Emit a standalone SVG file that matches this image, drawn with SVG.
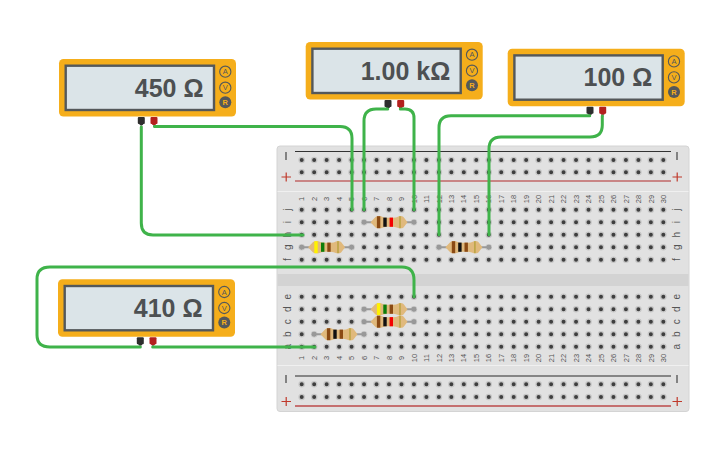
<svg xmlns="http://www.w3.org/2000/svg" xmlns:xlink="http://www.w3.org/1999/xlink" width="725" height="453" viewBox="0 0 725 453">
<style>
text{font-family:"Liberation Sans",Arial,sans-serif}
.case{fill:#f5ae1b}
.screen{fill:#dbe4e8;stroke:#54585a;stroke-width:2.4}
.val{font-size:25px;font-weight:bold;fill:#4d5052;text-anchor:end}
.btn{fill:none;stroke:#54585a;stroke-width:1.1}
.on{fill:#54585a;stroke:none}
.bl{font-size:7.5px;fill:#54585a;text-anchor:middle}
.blon{font-size:7.5px;font-weight:bold;fill:#f5ae1b;text-anchor:middle}
.tb{fill:#2e2e2e}.tr{fill:#b3201e}
.pin{stroke:#8c8c8c;stroke-width:2;fill:none}
.wire{fill:none;stroke:#3fb34a;stroke-width:3;stroke-linecap:round}
.halo{fill:none;stroke:#3fb34a;stroke-opacity:.18;stroke-width:5}
.h1{fill:none;stroke:#c6c6c6;stroke-width:6.6;stroke-linecap:round;stroke-dasharray:0 12.47}
.h2{fill:none;stroke:#3f3f3f;stroke-width:4;stroke-linecap:round;stroke-dasharray:0 12.47}
.n{font-size:7.5px;fill:#555;text-anchor:middle}
.l{font-size:10px;fill:#555;text-anchor:middle}
.minus{font-size:12px;fill:#444;text-anchor:middle}
.plus{font-size:15px;fill:#c0392b;text-anchor:middle}
.lead{stroke:#999;stroke-width:2;fill:none}
.end{fill:#999}
.rb{fill:#e0b97c}
.b1{fill:#8a4a14}.b0{fill:#111}.br{fill:#f40000}.by{fill:#fff200}.bg{fill:#0b7d0b}.bo{fill:#b7a23c}
</style>
<defs>
<g id="mbody">
<rect class="case" x="0" y="0" width="177" height="57.5" rx="4.5"/>
<rect class="screen" x="6.7" y="6.7" width="148.3" height="44.3"/>
<circle class="btn" cx="166.3" cy="12.7" r="5.6"/>
<circle class="btn" cx="166.3" cy="28.7" r="5.6"/>
<circle class="on" cx="166.3" cy="43.3" r="6"/>
<path class="pin" d="M82.3 64V68M95 64V68"/>
<rect class="tb" x="78.8" y="58" width="7" height="7" rx="1"/>
<path class="tb" d="M79.800000 64h5l-1 2h-3z"/>
<rect class="tr" x="91.5" y="58" width="7" height="7" rx="1"/>
<path class="tr" d="M92.500000 64h5l-1 2h-3z"/>
</g>
<g id="rbody">
<path class="lead" d="M-25 0H25"/>
<circle class="end" cx="-25" cy="0" r="2.4"/><circle class="end" cx="25" cy="0" r="2.4"/>
<path class="rb" d="M-18.500000 0L-13.500000 -5.200000Q-11 -6.500000 -8 -6Q-5 -4.500000 -2 -4.500000H4Q7 -4.500000 10 -6Q13 -6.500000 14.500000 -5.200000L18.500000 0L14.500000 5.200000Q13 6.500000 10 6Q7 4.500000 4 4.500000H-2Q-5 4.500000 -8 6Q-11 6.500000 -13.500000 5.200000Z"/>
</g>
<rect id="b1" x="-1.7" y="-6" width="3.4" height="12"/>
<rect id="b2" x="-1.7" y="-4.6" width="3.4" height="9.200000"/>
<rect id="b4" x="-.7" y="-6" width="1.4" height="12"/>
</defs>
<rect width="725" height="453" fill="#fff"/>

<g id="breadboard">
<rect x="277" y="146" width="412" height="265.500000" rx="3" fill="#e1e1e1" stroke="#d4d4d4"/>
<rect x="277.500000" y="274" width="411" height="12" fill="#d3d3d3"/>
<path d="M277.500000 191.500000H688.500000M277.500000 365.500000H688.500000" stroke="#f0f0f0" stroke-width="1"/>
<path d="M295 151.500000H671" stroke="#333" stroke-width="1.2"/>
<path d="M295 181H671" stroke="#b22a2a" stroke-width="1.2"/>
<path d="M295 376H671" stroke="#666" stroke-width="1.4"/>
<path d="M295 406H671" stroke="#bb4a4a" stroke-width="1.4"/>
<path class="h1" d="M301.700000 160H664M301.700000 172.300000H664M301.700000 209.700000H664M301.700000 222.200000H664M301.700000 234.700000H664M301.700000 247.200000H664M301.700000 259.700000H664M301.700000 296.700000H664M301.700000 309.200000H664M301.700000 321.700000H664M301.700000 334.200000H664M301.700000 346.700000H664M301.700000 384.300000H664M301.700000 397H664"/>
<path class="h2" d="M301.700000 160H664M301.700000 172.300000H664M301.700000 209.700000H664M301.700000 222.200000H664M301.700000 234.700000H664M301.700000 247.200000H664M301.700000 259.700000H664M301.700000 296.700000H664M301.700000 309.200000H664M301.700000 321.700000H664M301.700000 334.200000H664M301.700000 346.700000H664M301.700000 384.300000H664M301.700000 397H664"/>
<path d="M286 152V160M677 152V160M286 375V383M677 375V383" stroke="#444" stroke-width="1.2"/>
<path d="M281.500000 177H291M286.200000 172.500000V181.500000M672.500000 177H682M677.200000 172.500000V181.500000M281.500000 401.500000H291M286.200000 397V406M672.500000 401.500000H682M677.200000 397V406" stroke="#c0392b" stroke-width="1.2"/>
<g class="n">
<text class="n" transform="translate(304.300000 199) rotate(-90)">1</text>
<text class="n" transform="translate(316.800000 199) rotate(-90)">2</text>
<text class="n" transform="translate(329.200000 199) rotate(-90)">3</text>
<text class="n" transform="translate(341.700000 199) rotate(-90)">4</text>
<text class="n" transform="translate(354.200000 199) rotate(-90)">5</text>
<text class="n" transform="translate(366.700000 199) rotate(-90)">6</text>
<text class="n" transform="translate(379.100000 199) rotate(-90)">7</text>
<text class="n" transform="translate(391.600000 199) rotate(-90)">8</text>
<text class="n" transform="translate(404.100000 199) rotate(-90)">9</text>
<text class="n" transform="translate(416.500000 199) rotate(-90)">10</text>
<text class="n" transform="translate(429 199) rotate(-90)">11</text>
<text class="n" transform="translate(441.500000 199) rotate(-90)">12</text>
<text class="n" transform="translate(453.900000 199) rotate(-90)">13</text>
<text class="n" transform="translate(466.400000 199) rotate(-90)">14</text>
<text class="n" transform="translate(478.900000 199) rotate(-90)">15</text>
<text class="n" transform="translate(491.400000 199) rotate(-90)">16</text>
<text class="n" transform="translate(503.800000 199) rotate(-90)">17</text>
<text class="n" transform="translate(516.300000 199) rotate(-90)">18</text>
<text class="n" transform="translate(528.800000 199) rotate(-90)">19</text>
<text class="n" transform="translate(541.200000 199) rotate(-90)">20</text>
<text class="n" transform="translate(553.700000 199) rotate(-90)">21</text>
<text class="n" transform="translate(566.200000 199) rotate(-90)">22</text>
<text class="n" transform="translate(578.600000 199) rotate(-90)">23</text>
<text class="n" transform="translate(591.100000 199) rotate(-90)">24</text>
<text class="n" transform="translate(603.600000 199) rotate(-90)">25</text>
<text class="n" transform="translate(616.100000 199) rotate(-90)">26</text>
<text class="n" transform="translate(628.500000 199) rotate(-90)">27</text>
<text class="n" transform="translate(641 199) rotate(-90)">28</text>
<text class="n" transform="translate(653.500000 199) rotate(-90)">29</text>
<text class="n" transform="translate(665.900000 199) rotate(-90)">30</text>
<text class="n" transform="translate(304.300000 358) rotate(-90)">1</text>
<text class="n" transform="translate(316.800000 358) rotate(-90)">2</text>
<text class="n" transform="translate(329.200000 358) rotate(-90)">3</text>
<text class="n" transform="translate(341.700000 358) rotate(-90)">4</text>
<text class="n" transform="translate(354.200000 358) rotate(-90)">5</text>
<text class="n" transform="translate(366.700000 358) rotate(-90)">6</text>
<text class="n" transform="translate(379.100000 358) rotate(-90)">7</text>
<text class="n" transform="translate(391.600000 358) rotate(-90)">8</text>
<text class="n" transform="translate(404.100000 358) rotate(-90)">9</text>
<text class="n" transform="translate(416.500000 358) rotate(-90)">10</text>
<text class="n" transform="translate(429 358) rotate(-90)">11</text>
<text class="n" transform="translate(441.500000 358) rotate(-90)">12</text>
<text class="n" transform="translate(453.900000 358) rotate(-90)">13</text>
<text class="n" transform="translate(466.400000 358) rotate(-90)">14</text>
<text class="n" transform="translate(478.900000 358) rotate(-90)">15</text>
<text class="n" transform="translate(491.400000 358) rotate(-90)">16</text>
<text class="n" transform="translate(503.800000 358) rotate(-90)">17</text>
<text class="n" transform="translate(516.300000 358) rotate(-90)">18</text>
<text class="n" transform="translate(528.800000 358) rotate(-90)">19</text>
<text class="n" transform="translate(541.200000 358) rotate(-90)">20</text>
<text class="n" transform="translate(553.700000 358) rotate(-90)">21</text>
<text class="n" transform="translate(566.200000 358) rotate(-90)">22</text>
<text class="n" transform="translate(578.600000 358) rotate(-90)">23</text>
<text class="n" transform="translate(591.100000 358) rotate(-90)">24</text>
<text class="n" transform="translate(603.600000 358) rotate(-90)">25</text>
<text class="n" transform="translate(616.100000 358) rotate(-90)">26</text>
<text class="n" transform="translate(628.500000 358) rotate(-90)">27</text>
<text class="n" transform="translate(641 358) rotate(-90)">28</text>
<text class="n" transform="translate(653.500000 358) rotate(-90)">29</text>
<text class="n" transform="translate(665.900000 358) rotate(-90)">30</text>
</g>
<text class="l" transform="translate(291 209.700000) rotate(-90)">j</text>
<text class="l" transform="translate(291 222.200000) rotate(-90)">i</text>
<text class="l" transform="translate(291 234.700000) rotate(-90)">h</text>
<text class="l" transform="translate(291 247.200000) rotate(-90)">g</text>
<text class="l" transform="translate(291 259.700000) rotate(-90)">f</text>
<text class="l" transform="translate(291 296.700000) rotate(-90)">e</text>
<text class="l" transform="translate(291 309.200000) rotate(-90)">d</text>
<text class="l" transform="translate(291 321.700000) rotate(-90)">c</text>
<text class="l" transform="translate(291 334.200000) rotate(-90)">b</text>
<text class="l" transform="translate(291 346.700000) rotate(-90)">a</text>
<text class="l" transform="translate(680 209.700000) rotate(-90)">j</text>
<text class="l" transform="translate(680 222.200000) rotate(-90)">i</text>
<text class="l" transform="translate(680 234.700000) rotate(-90)">h</text>
<text class="l" transform="translate(680 247.200000) rotate(-90)">g</text>
<text class="l" transform="translate(680 259.700000) rotate(-90)">f</text>
<text class="l" transform="translate(680 296.700000) rotate(-90)">e</text>
<text class="l" transform="translate(680 309.200000) rotate(-90)">d</text>
<text class="l" transform="translate(680 321.700000) rotate(-90)">c</text>
<text class="l" transform="translate(680 334.200000) rotate(-90)">b</text>
<text class="l" transform="translate(680 346.700000) rotate(-90)">a</text>
</g>

<g id="r1" transform="translate(389 222.200000)"><use href="#rbody"/><use href="#b1" class="b1" x="-10.4"/><use href="#b2" class="b0" x="-4"/><use href="#b2" class="br" x="2.3"/><use href="#b4" class="bo" x="11"/></g>
<g id="r2" transform="translate(326.600000 247.200000)"><use href="#rbody"/><use href="#b1" class="by" x="-10.6"/><use href="#b2" class="bg" x="-3.9"/><use href="#b2" class="b1" x="2.4"/><use href="#b4" class="bo" x="11.4"/></g>
<g id="r3" transform="translate(463.900000 247.200000)"><use href="#rbody"/><use href="#b1" class="b1" x="-10.4"/><use href="#b2" class="b0" x="-4"/><use href="#b2" class="b1" x="2.3"/><use href="#b4" class="bo" x="11"/></g>
<g id="r4" transform="translate(389 309.200000)"><use href="#rbody"/><use href="#b1" class="by" x="-10.4"/><use href="#b2" class="bg" x="-4"/><use href="#b2" class="b1" x="2.3"/><use href="#b4" class="bo" x="11"/></g>
<g id="r5" transform="translate(389 321.700000)"><use href="#rbody"/><use href="#b1" class="b1" x="-10.4"/><use href="#b2" class="b0" x="-4"/><use href="#b2" class="br" x="2.3"/><use href="#b4" class="bo" x="11"/></g>
<g id="r6" transform="translate(339 334.200000)"><use href="#rbody"/><use href="#b1" class="b1" x="-10.4"/><use href="#b2" class="b0" x="-4"/><use href="#b2" class="b1" x="2.3"/><use href="#b4" class="bo" x="11"/></g>

<g id="meter-450" transform="translate(59 59)"><use href="#mbody"/>
<text class="val" x="144.500000" y="37.700000">450 Ω</text>
<text class="bl" x="166.300000" y="15.400000">A</text><text class="bl" x="166.300000" y="31.400000">V</text><text class="blon" x="166.300000" y="46">R</text></g>
<g id="meter-1k" transform="translate(305.700000 42)"><use href="#mbody"/>
<text class="val" x="144.500000" y="37.700000">1.00 kΩ</text>
<text class="bl" x="166.300000" y="15.400000">A</text><text class="bl" x="166.300000" y="31.400000">V</text><text class="blon" x="166.300000" y="46">R</text></g>
<g id="meter-100" transform="translate(507.700000 48.700000)"><use href="#mbody"/>
<text class="val" x="144.500000" y="37.700000">100 Ω</text>
<text class="bl" x="166.300000" y="15.400000">A</text><text class="bl" x="166.300000" y="31.400000">V</text><text class="blon" x="166.300000" y="46">R</text></g>
<g id="meter-410" transform="translate(58 279.300000)"><use href="#mbody"/>
<text class="val" x="144.500000" y="37.700000">410 Ω</text>
<text class="bl" x="166.300000" y="15.400000">A</text><text class="bl" x="166.300000" y="31.400000">V</text><text class="blon" x="166.300000" y="46">R</text></g>

<g id="connectors">
<path class="wire" d="M141.300000 127V223Q141.300000 235 153 235H303"/>
<path class="wire" d="M154.500000 126.500000H340Q352 126.500000 352 138.500000V209.700000"/>
<path class="wire" d="M387.700000 109H376Q364 109 364 121V209.700000"/>
<path class="wire" d="M400.300000 109H405Q414 109 414 118V209.700000"/>
<path class="wire" d="M589.700000 115.700000H451Q439 115.700000 439 127.700000V234.700000"/>
<path class="wire" d="M602.300000 116V125Q602.300000 137 590 137H501Q489 137 489 149V234.700000"/>
<path class="wire" d="M140.300000 347H50Q37 347 37 335V279Q37 267 50 267H402Q414 267 414 280V296.700000"/>
<path class="wire" d="M152.700000 347H315"/>
</g>
</svg>
